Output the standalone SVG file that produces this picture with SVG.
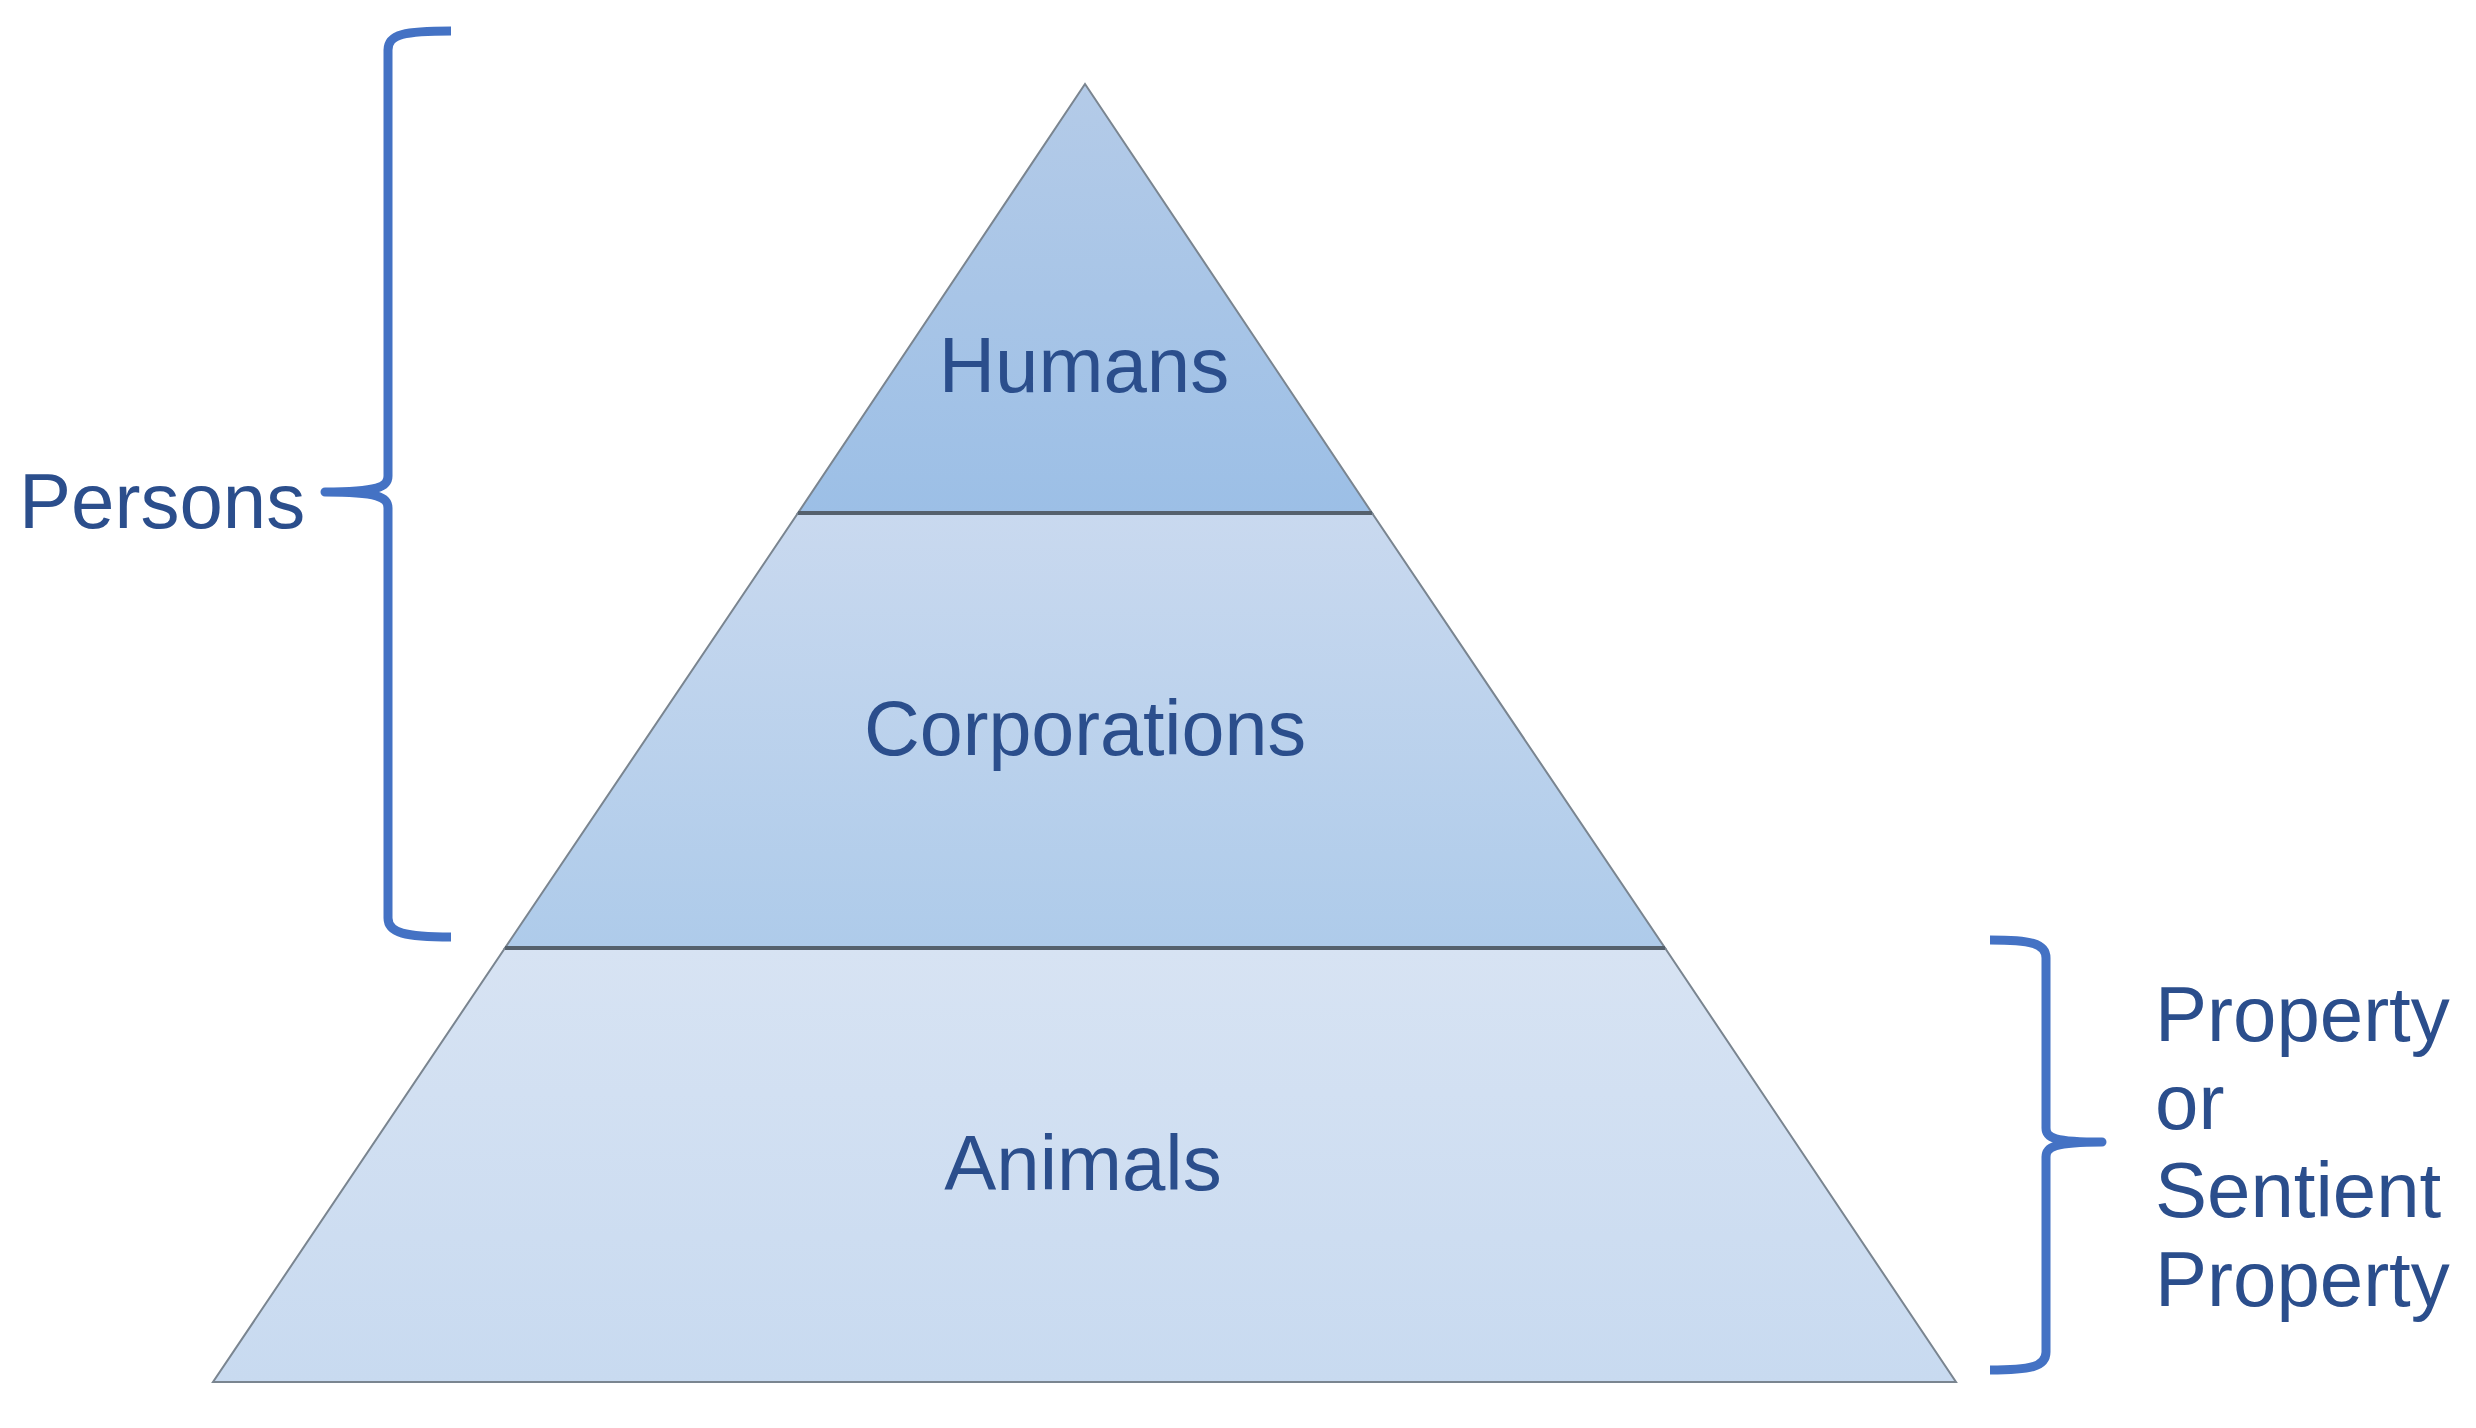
<svg xmlns="http://www.w3.org/2000/svg" width="2476" height="1428" viewBox="0 0 2476 1428">
  <style>
    .lbl { font-family: "Liberation Sans", Arial, sans-serif; font-size: 78px; fill: #2b4e8c; }
    .layer { stroke: #7a8590; stroke-width: 2; stroke-linejoin: miter; }
    .divider { stroke: #55616d; stroke-width: 4; }
    .brace { fill: none; stroke: #4472c4; stroke-width: 9; stroke-linecap: butt; stroke-linejoin: round; }
  </style>
  <defs>
    <linearGradient id="gHumans" x1="0" y1="0" x2="0" y2="1">
      <stop offset="0" stop-color="#b4cbe8"/>
      <stop offset="1" stop-color="#9cbfe6"/>
    </linearGradient>
    <linearGradient id="gCorp" x1="0" y1="0" x2="0" y2="1">
      <stop offset="0" stop-color="#c9d9ef"/>
      <stop offset="1" stop-color="#aecbea"/>
    </linearGradient>
    <linearGradient id="gAnimals" x1="0" y1="0" x2="0" y2="1">
      <stop offset="0" stop-color="#d7e3f3"/>
      <stop offset="1" stop-color="#c8daf0"/>
    </linearGradient>
  </defs>
  <rect x="0" y="0" width="2476" height="1428" fill="#ffffff"/>

  <g id="animals">
    <polygon class="layer" points="505,948 1665,948 1956,1382 213,1382" fill="url(#gAnimals)"/>
    <text class="lbl" x="1083" y="1190" text-anchor="middle">Animals</text>
  </g>
  <g id="corporations">
    <polygon class="layer" points="798,513 1372,513 1665,948 505,948" fill="url(#gCorp)"/>
    <text class="lbl" x="1085" y="755" text-anchor="middle" textLength="442" lengthAdjust="spacingAndGlyphs">Corporations</text>
  </g>
  <g id="humans">
    <polygon class="layer" points="1085,84 1372,513 798,513" fill="url(#gHumans)"/>
    <text class="lbl" x="1084" y="392" text-anchor="middle">Humans</text>
  </g>
  <g id="dividers">
    <line class="divider" x1="798" y1="513" x2="1372" y2="513"/>
    <line class="divider" x1="505" y1="948" x2="1665" y2="948"/>
  </g>

  <g id="persons">
    <text class="lbl" x="19" y="528">Persons</text>
  </g>
  <g id="property">
    <text class="lbl" x="2155" y="1041">Property</text>
    <text class="lbl" x="2155" y="1129">or</text>
    <text class="lbl" x="2155" y="1217">Sentient</text>
    <text class="lbl" x="2155" y="1306">Property</text>
  </g>

  <g id="connectors">
    <path class="brace" d="M 451 31 C 405 31 388 34 388 50 L 388 476 C 388 487 378 492 325 492 C 378 492 388 497 388 508 L 388 918 C 388 933 405 937 451 937"/>
    <path class="brace" d="M 1990 940 C 2030 940 2046 943 2046 958 L 2046 1128 C 2046 1138 2054 1142 2102 1142 C 2054 1142 2046 1147 2046 1157 L 2046 1352 C 2046 1367 2030 1370 1990 1370"/>
  </g>
</svg>
